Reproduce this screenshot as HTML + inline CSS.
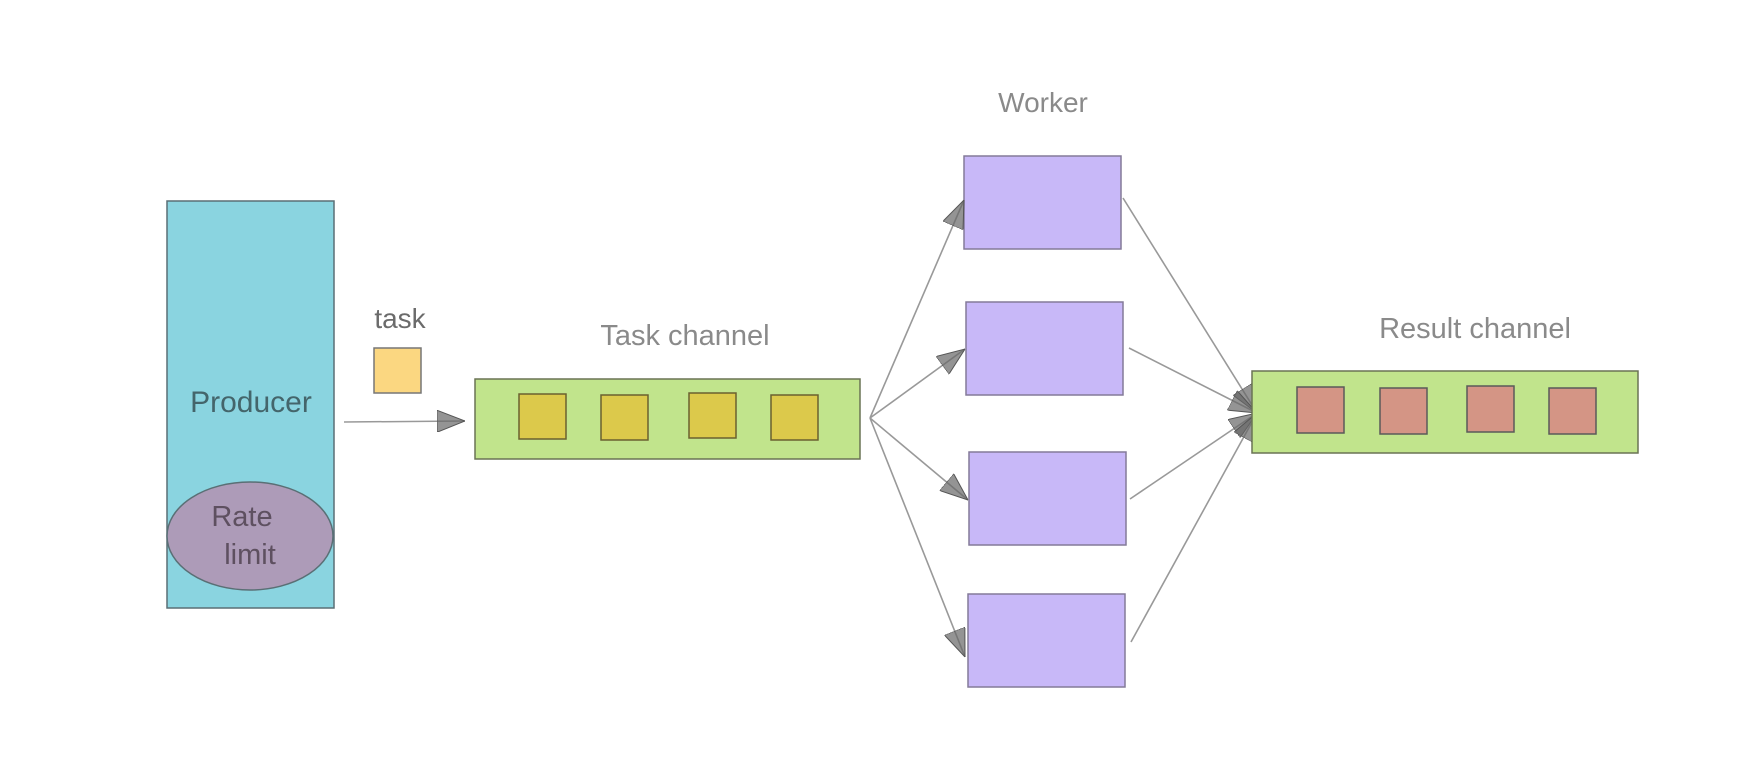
<!DOCTYPE html>
<html><head><meta charset="utf-8"><style>
html,body{margin:0;padding:0;background:#fff;}
svg{display:block}
text{font-family:"Liberation Sans",sans-serif;}
</style></head><body>
<svg width="1756" height="780" viewBox="0 0 1756 780" xmlns="http://www.w3.org/2000/svg">
<defs>
<marker id="a" viewBox="0 0 28 22" refX="28" refY="11" markerWidth="28" markerHeight="22" markerUnits="userSpaceOnUse" orient="auto">
<path d="M0,0 L28,11 L0,22 Z" fill="#666" fill-opacity="0.7" stroke="#555" stroke-width="1"/>
</marker>
</defs>
<rect width="1756" height="780" fill="#fff"/>
<!-- Producer -->
<rect x="167" y="201" width="167" height="407" fill="#8ad4e0" stroke="#5a6f75" stroke-width="1.5"/>
<ellipse cx="250" cy="536" rx="83" ry="54" fill="#ad9bb8" stroke="#5a6f75" stroke-width="1.5"/>
<text x="251" y="412" font-size="30" fill="#44656b" text-anchor="middle">Producer</text>
<text x="242" y="526" font-size="29" fill="#5e5060" text-anchor="middle">Rate</text>
<text x="250" y="564" font-size="29" fill="#5e5060" text-anchor="middle">limit</text>
<!-- task -->
<text x="400" y="328" font-size="28" fill="#6b6b6b" text-anchor="middle">task</text>
<rect x="374" y="348" width="47" height="45" fill="#fbd781" stroke="#777" stroke-width="1.5"/>
<line x1="344" y1="422" x2="465" y2="421" stroke="#999" stroke-width="1.5" marker-end="url(#a)"/>
<!-- Task channel -->
<text x="685" y="345" font-size="29" fill="#8a8a8a" text-anchor="middle">Task channel</text>
<rect x="475" y="379" width="385" height="80" fill="#c1e48c" stroke="#6a7355" stroke-width="1.5"/>
<g fill="#dcc94b" stroke="#6a6030" stroke-width="1.5">
<rect x="519" y="394" width="47" height="45"/>
<rect x="601" y="395" width="47" height="45"/>
<rect x="689" y="393" width="47" height="45"/>
<rect x="771" y="395" width="47" height="45"/>
</g>
<!-- Workers -->
<text x="1043" y="112" font-size="28" fill="#8a8a8a" text-anchor="middle">Worker</text>
<g fill="#c8b8f8" stroke="#847a99" stroke-width="1.5">
<rect x="964" y="156" width="157" height="93"/>
<rect x="966" y="302" width="157" height="93"/>
<rect x="969" y="452" width="157" height="93"/>
<rect x="968" y="594" width="157" height="93"/>
</g>
<g stroke="#999" stroke-width="1.6" fill="none">
<line x1="870" y1="418" x2="964" y2="200" marker-end="url(#a)"/>
<line x1="870" y1="418" x2="965" y2="349" marker-end="url(#a)"/>
<line x1="870" y1="418" x2="968" y2="500" marker-end="url(#a)"/>
<line x1="870" y1="418" x2="965" y2="657" marker-end="url(#a)"/>
<line x1="1123" y1="198" x2="1257" y2="413" marker-end="url(#a)"/>
<line x1="1129" y1="348" x2="1257" y2="413" marker-end="url(#a)"/>
<line x1="1130" y1="499" x2="1257" y2="413" marker-end="url(#a)"/>
<line x1="1131" y1="642" x2="1257" y2="413" marker-end="url(#a)"/>
</g>
<!-- Result channel -->
<text x="1475" y="338" font-size="29" fill="#8a8a8a" text-anchor="middle">Result channel</text>
<rect x="1252" y="371" width="386" height="82" fill="#c1e48c" stroke="#6a7355" stroke-width="1.5"/>
<g fill="#d49585" stroke="#5a5a5a" stroke-width="1.5">
<rect x="1297" y="387" width="47" height="46"/>
<rect x="1380" y="388" width="47" height="46"/>
<rect x="1467" y="386" width="47" height="46"/>
<rect x="1549" y="388" width="47" height="46"/>
</g>
</svg>
</body></html>
